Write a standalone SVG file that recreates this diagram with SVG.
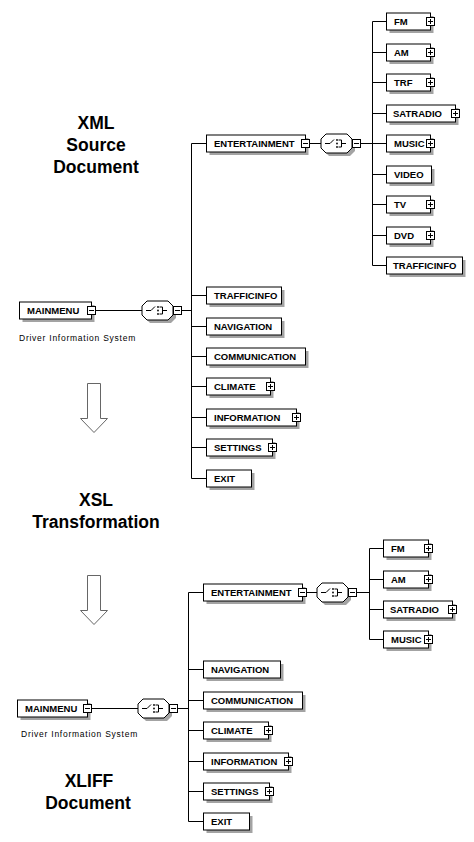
<svg xmlns="http://www.w3.org/2000/svg" xmlns:xlink="http://www.w3.org/1999/xlink" width="474" height="842" viewBox="0 0 474 842">
<style>
.sh{fill:#a3a3a3}
.box{fill:#fff;stroke:#000;stroke-width:1}
.lbl{font-family:"Liberation Sans",Arial,sans-serif;font-weight:bold;font-size:9.5px;fill:#000}
.ln{stroke:#000;stroke-width:1;fill:none}
.big{font-family:"Liberation Sans",Arial,sans-serif;font-weight:bold;font-size:17.5px;fill:#000;text-anchor:middle}
.cap{font-family:"Liberation Sans",Arial,sans-serif;font-size:8.5px;letter-spacing:0.75px;fill:#000}
.arr{fill:#fff;stroke:#666;stroke-width:1}
</style>
<defs>
<g id="mi"><rect x="-4" y="-4" width="8" height="8" fill="#fff" stroke="#000"/><path d="M-2.5 0H2.5" stroke="#000"/></g>
<g id="pl"><rect x="-4" y="-4" width="8" height="8" fill="#fff" stroke="#000"/><path d="M-2.5 0H2.5M0 -2.5V2.5" stroke="#000"/></g>
<g id="seq">
<path d="M8,3 H29 L34,8 V17 L29,22 H8 L3,17 V8 Z" class="sh"/>
<path d="M5,0 H26 L31,5 V14 L26,19 H5 L0,14 V5 Z" fill="#fff" stroke="#000"/>
<path d="M4,9.5 H9 L13,5.5 M17.5,6 H20.5 V13 H17.5 M20.5,9.5 H25" stroke="#000" fill="none"/>
<circle cx="16" cy="6" r="0.9"/><circle cx="16" cy="9.5" r="0.9"/><circle cx="16" cy="13" r="0.9"/>
</g>
</defs>
<rect width="474" height="842" fill="#fff"/>

<g id="titles">
<text class="big" x="96" y="129">XML</text>
<text class="big" x="96" y="151">Source</text>
<text class="big" x="96" y="173">Document</text>
<text class="big" x="96" y="506">XSL</text>
<text class="big" x="96" y="528">Transformation</text>
<text class="big" x="89" y="787">XLIFF</text>
<text class="big" x="88" y="809">Document</text>
<polygon class="arr" points="87.5,383.5 100.5,383.5 100.5,418.5 107.5,418.5 94,432.5 80.5,418.5 87.5,418.5"/>
<polygon class="arr" points="87.5,575.5 100.5,575.5 100.5,610.5 107.5,610.5 94,624.5 80.5,610.5 87.5,610.5"/>
</g>

<g id="connectors">
<path class="ln" d="M95 310.5H142M181.5 310.5H191.5M191.5 143.5V478.5M191.5 143.5H206M191.5 295.5H206M191.5 326.5H206M191.5 356.5H206M191.5 386.5H206M191.5 417.5H206M191.5 447.5H206M191.5 478.5H206"/>
<path class="ln" d="M309.5 143.5H321M360.5 143.5H372.5M372.5 21.5V265.5M372.5 21.5H386M372.5 52.5H386M372.5 82.5H386M372.5 113.5H386M372.5 143.5H386M372.5 174.5H386M372.5 204.5H386M372.5 235.5H386M372.5 265.5H386"/>
<path class="ln" d="M91.5 708.5H138M177.5 708.5H188.5M188.5 592.5V821.5M188.5 592.5H203M188.5 669.5H203M188.5 700.5H203M188.5 730.5H203M188.5 761.5H203M188.5 791.5H203M188.5 821.5H203"/>
<path class="ln" d="M306.5 592.5H317M356.5 592.5H369.5M369.5 548.5V639.5M369.5 548.5H383M369.5 579.5H383M369.5 609.5H383M369.5 639.5H383"/>
<use href="#seq" x="142" y="301"/>
<use href="#mi" x="177.5" y="310.5"/>
<use href="#seq" x="321" y="134"/>
<use href="#mi" x="356.5" y="143.5"/>
<use href="#seq" x="138" y="699"/>
<use href="#mi" x="173.5" y="708.5"/>
<use href="#seq" x="317" y="583"/>
<use href="#mi" x="352.5" y="592.5"/>
</g>

<!-- top tree -->
<g id="t-mainmenu"><rect class="sh" x="22.5" y="305" width="72" height="17"/><rect class="box" x="19.5" y="302" width="72" height="17"/><text class="lbl" x="27" y="314">MAINMENU</text><use href="#mi" x="91.5" y="310.5"/><text class="cap" x="19" y="341">Driver Information System</text></g>
<g id="t-entertainment"><rect class="sh" x="209.5" y="138" width="99" height="17"/><rect class="box" x="206.5" y="135" width="99" height="17"/><text class="lbl" x="214" y="147">ENTERTAINMENT</text><use href="#mi" x="305.5" y="143.5"/></g>
<g id="t-trafficinfo"><rect class="sh" x="209.5" y="290" width="75" height="17"/><rect class="box" x="206.5" y="287" width="75" height="17"/><text class="lbl" x="214" y="299">TRAFFICINFO</text></g>
<g id="t-navigation"><rect class="sh" x="209.5" y="321" width="75" height="17"/><rect class="box" x="206.5" y="318" width="75" height="17"/><text class="lbl" x="214" y="330">NAVIGATION</text></g>
<g id="t-communication"><rect class="sh" x="209.5" y="351" width="99" height="17"/><rect class="box" x="206.5" y="348" width="99" height="17"/><text class="lbl" x="214" y="360">COMMUNICATION</text></g>
<g id="t-climate"><rect class="sh" x="209.5" y="381" width="64" height="17"/><rect class="box" x="206.5" y="378" width="64" height="17"/><text class="lbl" x="214" y="390">CLIMATE</text><use href="#pl" x="270.5" y="386.5"/></g>
<g id="t-information"><rect class="sh" x="209.5" y="412" width="90" height="17"/><rect class="box" x="206.5" y="409" width="90" height="17"/><text class="lbl" x="214" y="421">INFORMATION</text><use href="#pl" x="296.5" y="417.5"/></g>
<g id="t-settings"><rect class="sh" x="209.5" y="442" width="66" height="17"/><rect class="box" x="206.5" y="439" width="66" height="17"/><text class="lbl" x="214" y="451">SETTINGS</text><use href="#pl" x="272.5" y="447.5"/></g>
<g id="t-exit"><rect class="sh" x="209.5" y="473" width="45" height="17"/><rect class="box" x="206.5" y="470" width="45" height="17"/><text class="lbl" x="214" y="482">EXIT</text></g>

<g id="t-fm"><rect class="sh" x="389.5" y="16" width="44" height="17"/><rect class="box" x="386.5" y="13" width="44" height="17"/><text class="lbl" x="394" y="25">FM</text><use href="#pl" x="430.5" y="21.5"/></g>
<g id="t-am"><rect class="sh" x="389.5" y="47" width="44" height="17"/><rect class="box" x="386.5" y="44" width="44" height="17"/><text class="lbl" x="394" y="56">AM</text><use href="#pl" x="430.5" y="52.5"/></g>
<g id="t-trf"><rect class="sh" x="389.5" y="77" width="44" height="17"/><rect class="box" x="386.5" y="74" width="44" height="17"/><text class="lbl" x="394" y="86">TRF</text><use href="#pl" x="430.5" y="82.5"/></g>
<g id="t-satradio"><rect class="sh" x="389.5" y="108" width="69" height="17"/><rect class="box" x="386.5" y="105" width="69" height="17"/><text class="lbl" x="393" y="117">SATRADIO</text><use href="#pl" x="455.5" y="113.5"/></g>
<g id="t-music"><rect class="sh" x="389.5" y="138" width="44" height="17"/><rect class="box" x="386.5" y="135" width="44" height="17"/><text class="lbl" x="394" y="147">MUSIC</text><use href="#pl" x="430.5" y="143.5"/></g>
<g id="t-video"><rect class="sh" x="389.5" y="169" width="45" height="17"/><rect class="box" x="386.5" y="166" width="45" height="17"/><text class="lbl" x="394" y="178">VIDEO</text></g>
<g id="t-tv"><rect class="sh" x="389.5" y="199" width="44" height="17"/><rect class="box" x="386.5" y="196" width="44" height="17"/><text class="lbl" x="394" y="208">TV</text><use href="#pl" x="430.5" y="204.5"/></g>
<g id="t-dvd"><rect class="sh" x="389.5" y="230" width="44" height="17"/><rect class="box" x="386.5" y="227" width="44" height="17"/><text class="lbl" x="394" y="239">DVD</text><use href="#pl" x="430.5" y="235.5"/></g>
<g id="t-trafficinfo2"><rect class="sh" x="389.5" y="260" width="76" height="17"/><rect class="box" x="386.5" y="257" width="76" height="17"/><text class="lbl" x="393" y="269">TRAFFICINFO</text></g>

<!-- bottom tree -->
<g id="b-mainmenu"><rect class="sh" x="20.5" y="703" width="70" height="17"/><rect class="box" x="17.5" y="700" width="70" height="17"/><text class="lbl" x="25" y="712">MAINMENU</text><use href="#mi" x="87.5" y="708.5"/><text class="cap" x="21" y="737">Driver Information System</text></g>
<g id="b-entertainment"><rect class="sh" x="206.5" y="587" width="99" height="17"/><rect class="box" x="203.5" y="584" width="99" height="17"/><text class="lbl" x="211" y="596">ENTERTAINMENT</text><use href="#mi" x="302.5" y="592.5"/></g>
<g id="b-navigation"><rect class="sh" x="206.5" y="664" width="77" height="17"/><rect class="box" x="203.5" y="661" width="77" height="17"/><text class="lbl" x="211" y="673">NAVIGATION</text></g>
<g id="b-communication"><rect class="sh" x="206.5" y="695" width="99" height="17"/><rect class="box" x="203.5" y="692" width="99" height="17"/><text class="lbl" x="211" y="704">COMMUNICATION</text></g>
<g id="b-climate"><rect class="sh" x="206.5" y="725" width="65" height="17"/><rect class="box" x="203.5" y="722" width="65" height="17"/><text class="lbl" x="211" y="734">CLIMATE</text><use href="#pl" x="268.5" y="730.5"/></g>
<g id="b-information"><rect class="sh" x="206.5" y="756" width="85" height="17"/><rect class="box" x="203.5" y="753" width="85" height="17"/><text class="lbl" x="211" y="765">INFORMATION</text><use href="#pl" x="288.5" y="761.5"/></g>
<g id="b-settings"><rect class="sh" x="206.5" y="786" width="66" height="17"/><rect class="box" x="203.5" y="783" width="66" height="17"/><text class="lbl" x="211" y="795">SETTINGS</text><use href="#pl" x="269.5" y="791.5"/></g>
<g id="b-exit"><rect class="sh" x="206.5" y="816" width="46" height="17"/><rect class="box" x="203.5" y="813" width="46" height="17"/><text class="lbl" x="211" y="825">EXIT</text></g>

<g id="b-fm"><rect class="sh" x="386.5" y="543" width="45" height="17"/><rect class="box" x="383.5" y="540" width="45" height="17"/><text class="lbl" x="391" y="552">FM</text><use href="#pl" x="428.5" y="548.5"/></g>
<g id="b-am"><rect class="sh" x="386.5" y="574" width="45" height="17"/><rect class="box" x="383.5" y="571" width="45" height="17"/><text class="lbl" x="391" y="583">AM</text><use href="#pl" x="428.5" y="579.5"/></g>
<g id="b-satradio"><rect class="sh" x="386.5" y="604" width="69" height="17"/><rect class="box" x="383.5" y="601" width="69" height="17"/><text class="lbl" x="390" y="613">SATRADIO</text><use href="#pl" x="452.5" y="609.5"/></g>
<g id="b-music"><rect class="sh" x="386.5" y="634" width="45" height="17"/><rect class="box" x="383.5" y="631" width="45" height="17"/><text class="lbl" x="391" y="643">MUSIC</text><use href="#pl" x="428.5" y="639.5"/></g>
</svg>
